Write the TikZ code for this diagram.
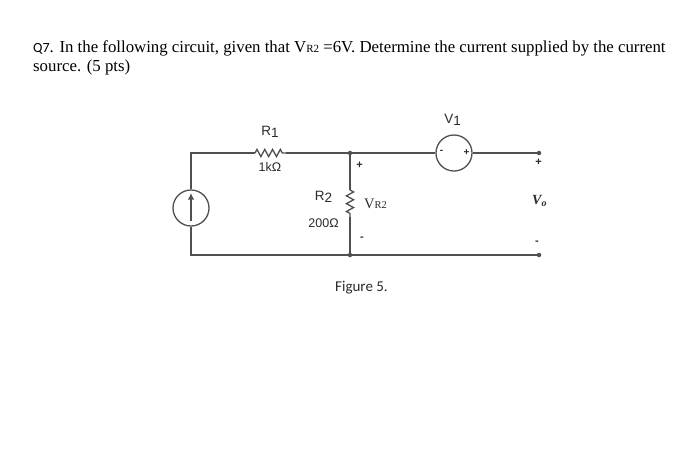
\documentclass[tikz,border=0pt]{standalone}
\usepackage{fontspec}
\setmainfont{Liberation Serif}
\newfontfamily\calib{Carlito}
\newfontfamily\arialf{Liberation Sans}
\usetikzlibrary{decorations.pathmorphing,arrows.meta}
\definecolor{wirec}{HTML}{505050}
\definecolor{inkc}{HTML}{2A2A2A}
\tikzset{
  wire/.style={draw=wirec,line width=1.7pt},
  thinwire/.style={draw=wirec,line width=1.3pt},
  srcbox/.style={circle,draw=wirec,line width=1.3pt,minimum size=36pt,inner sep=0pt},
  dotnode/.style={circle,fill=wirec,minimum size=4.5pt,inner sep=0pt},
  zig/.style={thinwire,decorate,decoration={zigzag,segment length=7.8pt,amplitude=3.6pt}},
  body/.style={inner sep=0pt,anchor=base west,text=black,font=\fontsize{16.8}{16.8}\selectfont},
  lab/.style={inner sep=0pt,anchor=base,text=inkc,font=\arialf\fontsize{13.5}{13.5}\selectfont},
  labsm/.style={inner sep=0pt,anchor=base,text=inkc,font=\arialf\fontsize{12.5}{12.5}\selectfont},
  capl/.style={inner sep=0pt,anchor=base,text=inkc,font=\calib\fontsize{15}{15}\selectfont},
  seriflab/.style={inner sep=0pt,anchor=base west,text=inkc,font=\fontsize{14.5}{14.5}\selectfont},
  sign/.style={inner sep=0pt,anchor=center,text=inkc,font=\arialf\bfseries\fontsize{11}{11}\selectfont}
}
\begin{document}
\begin{tikzpicture}[x=1pt,y=-1pt]
\useasboundingbox (0,0) rectangle (700,475);
\fill[white] (0,0) rectangle (700,475);
% question text
\node[body] (line1) at (33,52) {{\calib\fontsize{14}{14}\selectfont Q7}. In the following circuit, given that V{\fontsize{11}{11}\selectfont R2} =6V. Determine the current supplied by the current};
\node[body] (line2) at (33,71) {source. (5 pts)};
% junctions and ends
\coordinate (tl) at (191,153);
\coordinate (bl) at (191,255);
\node[dotnode] (jt) at (350,153) {};
\node[dotnode] (jb) at (350,255) {};
\node[dotnode] (et) at (539,153) {};
\node[dotnode] (eb) at (539,255) {};
% sources
\node[srcbox] (is) at (191,208) {};
\node[srcbox] (v1) at (454,153) {};
\coordinate (ia) at (191,221);
\coordinate (ib) at (191,193);
\draw[thinwire,-{Latex[length=6.5pt,width=6.5pt]}] (ia) -- (ib);
% R1
\coordinate (r1a) at (255,153);
\coordinate (r1b) at (286,153);
\draw[zig] (r1a) -- (r1b);
% R2
\coordinate (r2a) at (350,190);
\coordinate (r2b) at (350,217);
\draw[zig] (r2a) -- (r2b);
% wires
\draw[wire] (is.north) -- (tl) -- (r1a);
\draw[wire] (r1b) -- (jt);
\draw[wire] (jt) -- (v1.west);
\draw[wire] (v1.east) -- (et);
\draw[wire] (is.south) -- (bl) -- (jb);
\draw[wire] (jb) -- (eb);
\draw[wire] (jt) -- (r2a);
\draw[wire] (r2b) -- (jb);
% labels
\node[lab] (lr1) at (270,135) {R\raisebox{-2pt}{1}};
\node[labsm] (vr1) at (270,171.5) {1kΩ};
\node[lab] (lr2) at (323.5,200) {R\raisebox{-2pt}{2}};
\node[labsm] (vr2) at (323.5,227) {200Ω};
\node[lab] (lv1) at (452.5,123) {V\raisebox{-2pt}{1}};
\node[seriflab] (lvr) at (364,208) {V{\fontsize{10.5}{10.5}\selectfont R2}};
\node[seriflab,font=\itshape\bfseries\fontsize{14}{14}\selectfont] (lvo) at (532,204) {V\raisebox{-2pt}{\fontsize{10}{10}\selectfont o}};
\node[capl] (fig) at (361.5,291) {Figure 5.};
% signs
\node[sign] (s1) at (359.5,165.5) {+};
\node[sign] (s2) at (362,239) {-};
\node[sign] (s3) at (538.7,162.5) {+};
\node[sign] (s4) at (537,243) {-};
\node[sign,font=\arialf\bfseries\fontsize{10}{10}\selectfont] (s5) at (441.5,152) {-};
\node[sign,font=\arialf\bfseries\fontsize{10}{10}\selectfont] (s6) at (466.5,153) {+};
\end{tikzpicture}
\end{document}
